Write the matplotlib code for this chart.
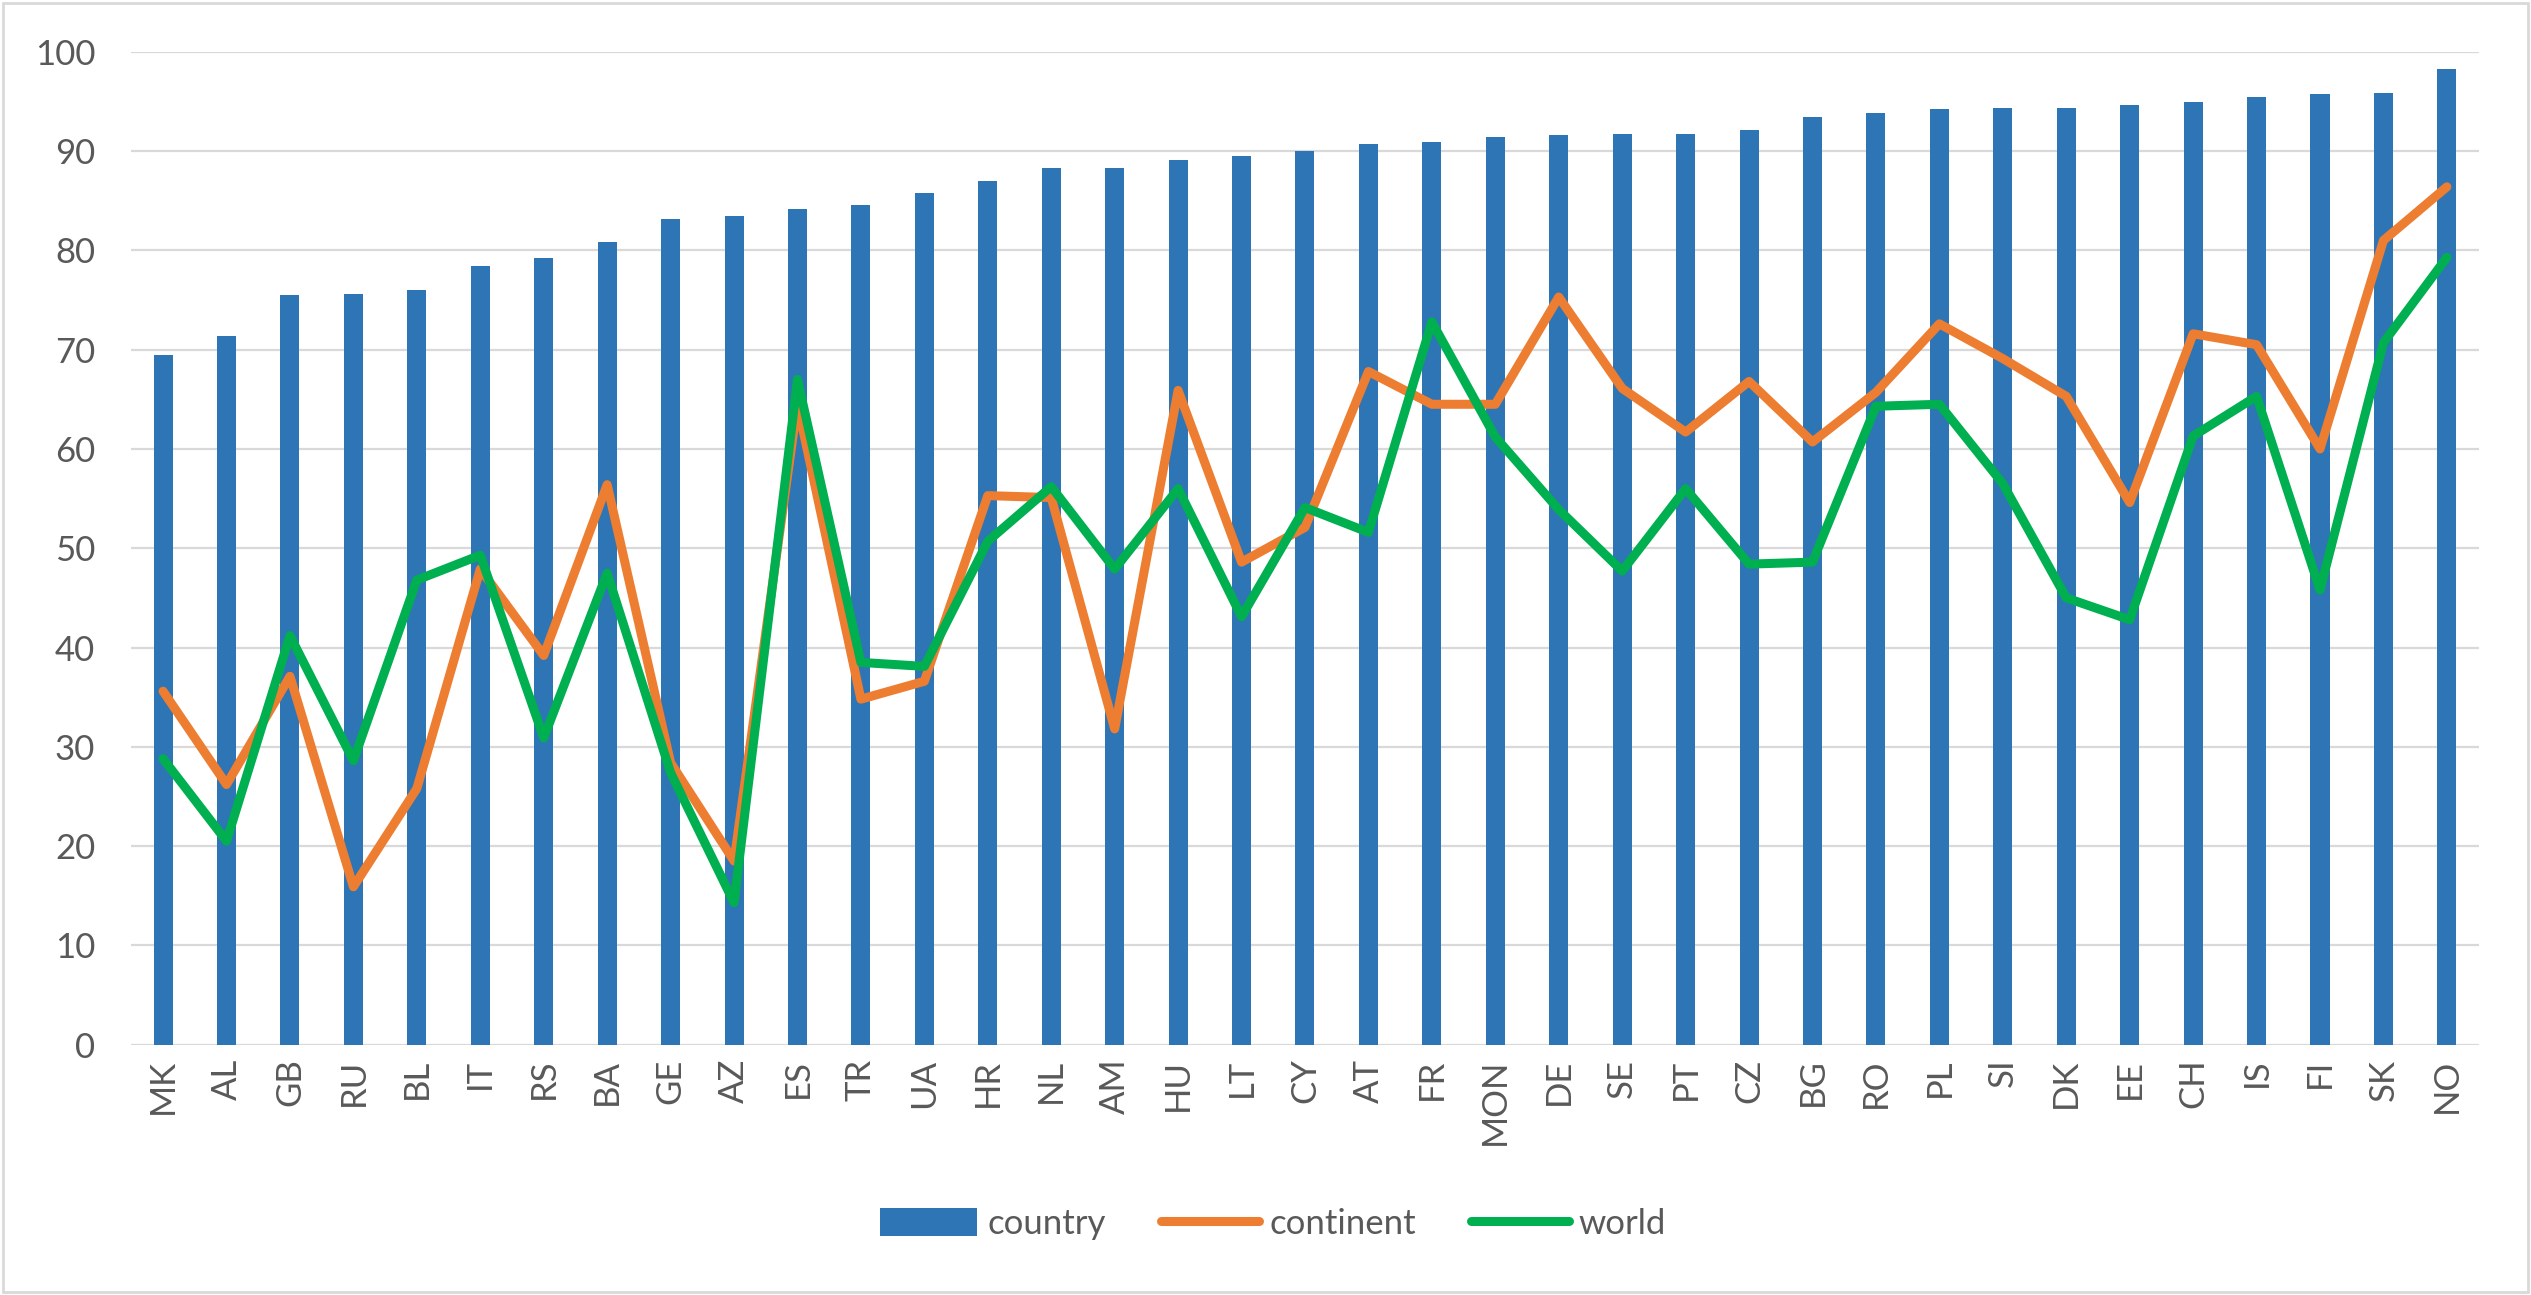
import numpy as np
import matplotlib
matplotlib.use("Agg")
import matplotlib.pyplot as plt
from matplotlib.patches import Rectangle

# 国コードと各系列の値
countries = ["MK", "AL", "GB", "RU", "BL", "IT", "RS", "BA", "GE", "AZ", "ES", "TR", "UA",
             "HR", "NL", "AM", "HU", "LT", "CY", "AT", "FR", "MON", "DE", "SE", "PT", "CZ",
             "BG", "RO", "PL", "SI", "DK", "EE", "CH", "IS", "FI", "SK", "NO"]
country = [69.5, 71.4, 75.5, 75.6, 76.0, 78.4, 79.2, 80.8, 83.2, 83.5, 84.2, 84.6, 85.8,
           87.0, 88.3, 88.3, 89.1, 89.5, 90.0, 90.7, 90.9, 91.4, 91.6, 91.7, 91.7, 92.1,
           93.4, 93.8, 94.2, 94.3, 94.3, 94.6, 94.9, 95.4, 95.8, 95.9, 98.3]
continent = [35.6, 26.2, 37.1, 15.9, 25.8, 47.9, 39.2, 56.4, 28.4, 18.5, 64.5, 34.8, 36.6,
             55.3, 55.1, 31.8, 65.9, 48.6, 52.1, 67.8, 64.5, 64.5, 75.3, 66.1, 61.7, 66.8,
             60.7, 65.7, 72.6, 69.1, 65.3, 54.6, 71.6, 70.5, 60.0, 81.0, 86.4]
world = [28.8, 20.5, 41.2, 28.6, 46.8, 49.3, 30.9, 47.5, 27.4, 14.3, 67.0, 38.5, 38.1,
         50.7, 56.2, 47.9, 56.0, 43.1, 54.1, 51.6, 72.8, 61.2, 53.9, 47.7, 56.0, 48.4,
         48.6, 64.3, 64.5, 56.5, 45.0, 42.8, 61.3, 65.3, 45.8, 70.7, 79.3]

plt.rcParams['font.family'] = ['Lato', 'DejaVu Sans']
gray_text = '#595959'

fig = plt.figure(figsize=(25.31, 12.95), dpi=100)
ax = fig.add_axes([0.0519, 0.1933, 0.9274, 0.7667])

x = np.arange(len(countries))
b = ax.bar(x, country, width=0.3, color='#2E75B6', label='country', zorder=2)
l1, = ax.plot(x, continent, color='#ED7D31', lw=6.5, solid_joinstyle='round',
              solid_capstyle='round', label='continent', zorder=3)
l2, = ax.plot(x, world, color='#00B050', lw=6.5, solid_joinstyle='round',
              solid_capstyle='round', label='world', zorder=4)

ax.set_xlim(-0.5, len(countries) - 0.5)
ax.set_ylim(0, 100)
ax.set_yticks(np.arange(0, 101, 10))
ax.set_xticks(x)
ax.set_xticklabels(countries, rotation=90)
ax.tick_params(axis='both', length=0, labelsize=25, colors=gray_text)
ax.tick_params(axis='y', pad=26)
ax.tick_params(axis='x', pad=10)
ax.grid(axis='y', color='#D9D9D9', lw=1.6, zorder=0)
for s in ax.spines.values():
    s.set_visible(False)

leg = fig.legend([b, l1, l2], ['country', 'continent', 'world'],
                 loc='center', bbox_to_anchor=(0.503, 0.055), ncol=3, frameon=False,
                 fontsize=25, handlelength=2.8, handleheight=0.9, handletextpad=0.3,
                 columnspacing=1.6)
for t in leg.get_texts():
    t.set_color(gray_text)

# 外枠
fig.patches.append(Rectangle((0.001, 0.002), 0.998, 0.996, transform=fig.transFigure,
                             fill=False, ec='#D9D9D9', lw=2))

fig.savefig('out.png', dpi=100)
